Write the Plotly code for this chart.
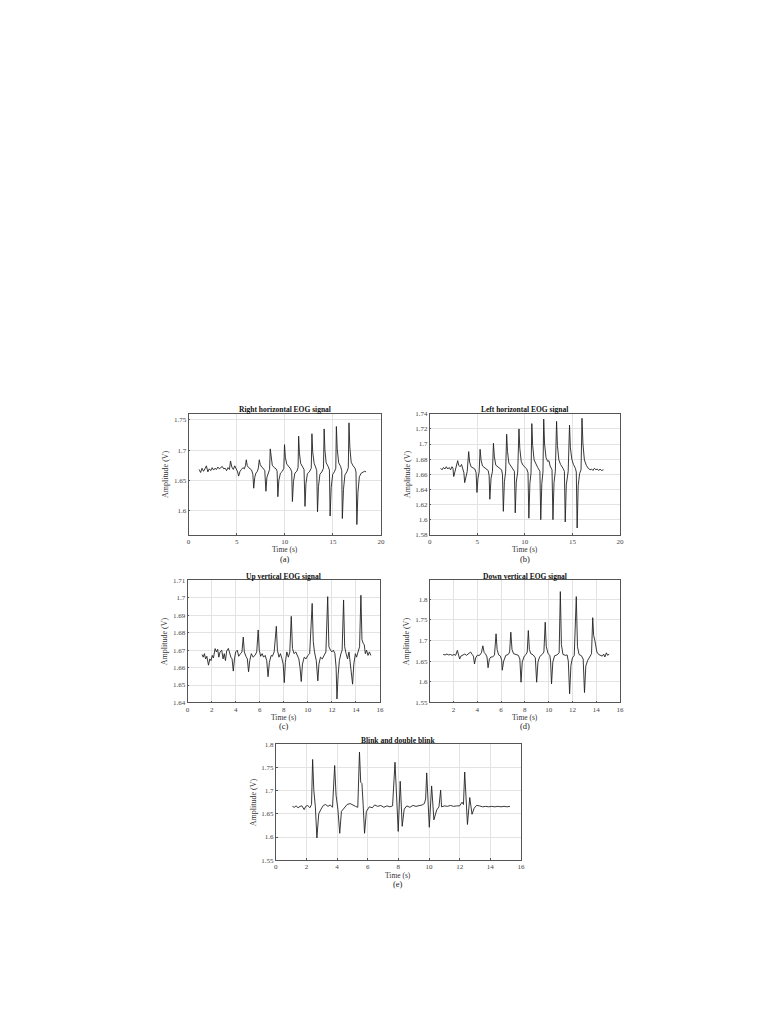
import plotly.graph_objects as go

# ---- data (time in s, amplitude in V) ----
t_right = [1.10, 1.25, 1.40, 1.55, 1.70, 1.85, 2.00, 2.15, 2.30, 2.45,
           2.60, 2.75, 2.90, 3.05, 3.20, 3.35, 3.50, 3.65, 3.80, 3.95,
           4.10, 4.25, 4.36, 4.50, 4.65, 4.80, 4.95, 5.10, 5.20, 5.35,
           5.50, 5.65, 5.80, 5.92, 6.00, 6.10, 6.25, 6.40, 6.55, 6.68,
           6.77, 6.88, 7.00, 7.15, 7.25, 7.35, 7.45, 7.60, 7.75, 7.92,
           8.04, 8.14, 8.30, 8.42, 8.49, 8.58, 8.70, 8.90, 9.10, 9.20,
           9.28, 9.38, 9.55, 9.75, 9.90, 9.97, 10.06, 10.20, 10.40, 10.60,
           10.72, 10.79, 10.90, 11.05, 11.25, 11.38, 11.44, 11.52, 11.65, 11.85,
           12.00, 12.10, 12.20, 12.35, 12.55, 12.75, 12.82, 12.90, 13.05, 13.20,
           13.32, 13.40, 13.50, 13.65, 13.85, 14.02, 14.09, 14.17, 14.30, 14.50,
           14.64, 14.71, 14.82, 14.98, 15.15, 15.30, 15.36, 15.45, 15.60, 15.80,
           15.92, 15.98, 16.10, 16.25, 16.45, 16.60, 16.67, 16.76, 16.90, 17.10,
           17.30, 17.40, 17.49, 17.60, 17.75, 17.95, 18.15, 18.30, 18.45]
v_right = [1.668, 1.663, 1.670, 1.665, 1.669, 1.674, 1.664, 1.669, 1.666, 1.671,
           1.667, 1.670, 1.668, 1.672, 1.669, 1.671, 1.673, 1.669, 1.670, 1.666,
           1.671, 1.668, 1.682, 1.672, 1.668, 1.674, 1.670, 1.664, 1.657, 1.665,
           1.668, 1.671, 1.669, 1.675, 1.684, 1.674, 1.671, 1.669, 1.667, 1.660,
           1.637, 1.655, 1.662, 1.665, 1.670, 1.684, 1.676, 1.672, 1.670, 1.666,
           1.632, 1.655, 1.663, 1.668, 1.702, 1.685, 1.675, 1.671, 1.669, 1.665,
           1.623, 1.650, 1.662, 1.665, 1.670, 1.709, 1.688, 1.677, 1.673, 1.669,
           1.664, 1.615, 1.648, 1.662, 1.665, 1.671, 1.723, 1.695, 1.678, 1.673,
           1.668, 1.607, 1.645, 1.661, 1.664, 1.670, 1.727, 1.697, 1.678, 1.672,
           1.666, 1.598, 1.640, 1.660, 1.664, 1.670, 1.735, 1.700, 1.679, 1.673,
           1.667, 1.591, 1.638, 1.660, 1.664, 1.670, 1.739, 1.702, 1.679, 1.673,
           1.666, 1.587, 1.635, 1.659, 1.664, 1.671, 1.745, 1.705, 1.680, 1.674,
           1.670, 1.664, 1.577, 1.630, 1.656, 1.662, 1.663, 1.665, 1.664]

t_left = [1.15, 1.30, 1.45, 1.60, 1.75, 1.90, 2.05, 2.20, 2.35, 2.45,
          2.53, 2.65, 2.80, 2.95, 3.05, 3.20, 3.35, 3.50, 3.60, 3.68,
          3.80, 3.95, 4.10, 4.20, 4.35, 4.55, 4.75, 4.88, 4.97, 5.08,
          5.20, 5.30, 5.40, 5.55, 5.75, 5.95, 6.15, 6.25, 6.32, 6.45,
          6.60, 6.70, 6.80, 6.95, 7.15, 7.35, 7.55, 7.65, 7.74, 7.85,
          7.98, 8.09, 8.18, 8.32, 8.50, 8.70, 8.90, 8.99, 9.10, 9.25,
          9.38, 9.47, 9.62, 9.80, 10.00, 10.20, 10.33, 10.42, 10.53, 10.65,
          10.73, 10.82, 10.97, 11.15, 11.35, 11.58, 11.67, 11.78, 11.90, 11.98,
          12.07, 12.22, 12.40, 12.53, 12.65, 12.85, 12.95, 13.06, 13.20, 13.33,
          13.42, 13.57, 13.75, 14.00, 14.15, 14.24, 14.35, 14.55, 14.69, 14.78,
          14.93, 15.10, 15.30, 15.40, 15.49, 15.60, 15.75, 15.90, 16.00, 16.10,
          16.25, 16.45, 16.65, 16.85, 17.00, 17.15, 17.30, 17.45, 17.60, 17.75,
          17.90, 18.05, 18.25]
v_left = [1.668, 1.666, 1.669, 1.667, 1.670, 1.667, 1.669, 1.666, 1.670, 1.668,
          1.657, 1.664, 1.670, 1.678, 1.672, 1.670, 1.673, 1.668, 1.662, 1.649,
          1.658, 1.664, 1.690, 1.676, 1.670, 1.668, 1.667, 1.662, 1.636, 1.655,
          1.663, 1.693, 1.679, 1.671, 1.669, 1.668, 1.665, 1.658, 1.627, 1.655,
          1.664, 1.701, 1.683, 1.672, 1.670, 1.668, 1.666, 1.660, 1.611, 1.650,
          1.663, 1.713, 1.690, 1.675, 1.671, 1.668, 1.664, 1.609, 1.650, 1.663,
          1.720, 1.694, 1.677, 1.672, 1.669, 1.667, 1.662, 1.602, 1.648, 1.662,
          1.727, 1.698, 1.679, 1.673, 1.669, 1.664, 1.600, 1.648, 1.663, 1.733,
          1.700, 1.682, 1.677, 1.678, 1.671, 1.666, 1.600, 1.649, 1.664, 1.730,
          1.698, 1.679, 1.673, 1.668, 1.664, 1.597, 1.646, 1.664, 1.725, 1.695,
          1.680, 1.673, 1.668, 1.663, 1.589, 1.645, 1.661, 1.666, 1.734, 1.700,
          1.679, 1.672, 1.668, 1.666, 1.667, 1.665, 1.668, 1.666, 1.667, 1.665,
          1.667, 1.665, 1.666]

t_up = [1.20, 1.30, 1.40, 1.50, 1.60, 1.74, 1.85, 1.95, 2.05, 2.15,
        2.29, 2.40, 2.50, 2.60, 2.70, 2.84, 2.95, 3.05, 3.15, 3.25,
        3.39, 3.50, 3.60, 3.70, 3.80, 3.90, 4.00, 4.13, 4.25, 4.40,
        4.52, 4.63, 4.72, 4.85, 4.97, 5.07, 5.17, 5.30, 5.45, 5.60,
        5.75, 5.87, 5.96, 6.08, 6.20, 6.32, 6.45, 6.58, 6.69, 6.80,
        6.95, 7.05, 7.20, 7.38, 7.47, 7.60, 7.72, 7.85, 7.95, 8.04,
        8.13, 8.25, 8.38, 8.50, 8.62, 8.72, 8.85, 9.00, 9.12, 9.25,
        9.35, 9.45, 9.55, 9.70, 9.85, 10.00, 10.15, 10.36, 10.45, 10.55,
        10.70, 10.83, 10.92, 11.05, 11.20, 11.35, 11.50, 11.65, 11.75, 11.88,
        12.00, 12.12, 12.25, 12.35, 12.42, 12.52, 12.62, 12.75, 12.85, 12.97,
        13.06, 13.18, 13.30, 13.42, 13.52, 13.62, 13.72, 13.82, 13.95, 14.05,
        14.18, 14.30, 14.41, 14.50, 14.60, 14.69, 14.78, 14.88, 15.00, 15.12,
        15.23]
v_up = [1.6675, 1.6660, 1.6680, 1.6650, 1.6665, 1.6614, 1.6650, 1.6640, 1.6670, 1.6655,
        1.6709, 1.6690, 1.6705, 1.6660, 1.6690, 1.6700, 1.6650, 1.6680, 1.6640, 1.6695,
        1.6710, 1.6680, 1.6660, 1.6650, 1.6580, 1.6650, 1.6690, 1.6700, 1.6665, 1.6680,
        1.6690, 1.6775, 1.6690, 1.6665, 1.6650, 1.6576, 1.6640, 1.6680, 1.6660, 1.6670,
        1.6690, 1.6816, 1.6700, 1.6665, 1.6680, 1.6660, 1.6670, 1.6640, 1.6548, 1.6630,
        1.6670, 1.6665, 1.6690, 1.6837, 1.6700, 1.6660, 1.6680, 1.6650, 1.6620, 1.6514,
        1.6630, 1.6690, 1.6660, 1.6690, 1.6894, 1.6710, 1.6680, 1.6690, 1.6670, 1.6650,
        1.6600, 1.6520, 1.6620, 1.6660, 1.6650, 1.6670, 1.6680, 1.6968, 1.6750, 1.6690,
        1.6640, 1.6524, 1.6620, 1.6660, 1.6650, 1.6670, 1.6690, 1.7007, 1.6720, 1.6700,
        1.6690, 1.6700, 1.6680, 1.6600, 1.6420, 1.6560, 1.6640, 1.6680, 1.6700, 1.6988,
        1.6720, 1.6680, 1.6650, 1.6690, 1.6620, 1.6580, 1.6505, 1.6620, 1.6680, 1.6660,
        1.6700, 1.6720, 1.7015, 1.6760, 1.6740, 1.6730, 1.6680, 1.6700, 1.6670, 1.6690,
        1.6670]

t_down = [1.14, 1.30, 1.45, 1.60, 1.75, 1.90, 2.05, 2.19, 2.33, 2.42,
          2.52, 2.62, 2.80, 2.95, 3.10, 3.25, 3.44, 3.58, 3.68, 3.77,
          3.87, 4.00, 4.20, 4.35, 4.47, 4.58, 4.70, 4.82, 4.91, 5.02,
          5.15, 5.30, 5.45, 5.58, 5.67, 5.80, 5.95, 6.05, 6.10, 6.22,
          6.40, 6.60, 6.72, 6.82, 6.92, 7.05, 7.25, 7.45, 7.58, 7.68,
          7.78, 7.95, 8.10, 8.20, 8.29, 8.38, 8.50, 8.70, 8.88, 8.99,
          9.10, 9.25, 9.45, 9.60, 9.71, 9.80, 9.95, 10.10, 10.16, 10.24,
          10.35, 10.50, 10.70, 10.88, 10.98, 11.07, 11.20, 11.40, 11.55, 11.65,
          11.76, 11.87, 12.00, 12.15, 12.32, 12.42, 12.55, 12.75, 12.90, 13.01,
          13.12, 13.28, 13.45, 13.60, 13.70, 13.78, 13.88, 13.95, 14.05, 14.20,
          14.35, 14.50, 14.62, 14.72, 14.85, 14.95, 15.09]
v_down = [1.666, 1.665, 1.667, 1.665, 1.666, 1.664, 1.666, 1.664, 1.676, 1.662,
          1.655, 1.662, 1.665, 1.667, 1.664, 1.668, 1.672, 1.666, 1.662, 1.643,
          1.658, 1.664, 1.664, 1.670, 1.687, 1.671, 1.667, 1.660, 1.634, 1.655,
          1.660, 1.660, 1.665, 1.716, 1.678, 1.665, 1.662, 1.652, 1.628, 1.650,
          1.664, 1.666, 1.672, 1.720, 1.678, 1.668, 1.665, 1.664, 1.655, 1.599,
          1.648, 1.662, 1.666, 1.672, 1.724, 1.678, 1.668, 1.665, 1.658, 1.599,
          1.648, 1.661, 1.666, 1.672, 1.744, 1.685, 1.668, 1.664, 1.650, 1.595,
          1.648, 1.663, 1.665, 1.670, 1.818, 1.690, 1.666, 1.664, 1.665, 1.650,
          1.571, 1.640, 1.658, 1.664, 1.806, 1.685, 1.666, 1.663, 1.655, 1.574,
          1.638, 1.652, 1.660, 1.668, 1.755, 1.712, 1.700, 1.682, 1.672, 1.666,
          1.664, 1.662, 1.667, 1.660, 1.670, 1.664, 1.667]

t_blink = [1.08, 1.20, 1.32, 1.45, 1.58, 1.70, 1.85, 1.95, 2.08, 2.22,
           2.33, 2.40, 2.48, 2.58, 2.68, 2.80, 2.95, 3.10, 3.25, 3.40,
           3.55, 3.70, 3.84, 3.93, 4.05, 4.17, 4.28, 4.45, 4.65, 4.85,
           5.05, 5.20, 5.35, 5.46, 5.54, 5.62, 5.70, 5.79, 5.91, 6.10,
           6.30, 6.45, 6.65, 6.85, 7.05, 7.25, 7.45, 7.62, 7.78, 7.88,
           7.99, 8.12, 8.25, 8.38, 8.55, 8.75, 8.95, 9.15, 9.35, 9.55,
           9.70, 9.78, 9.85, 9.95, 10.02, 10.17, 10.32, 10.50, 10.65, 10.76,
           10.82, 11.00, 11.20, 11.40, 11.60, 11.80, 12.00, 12.16, 12.25, 12.33,
           12.42, 12.51, 12.66, 12.81, 12.95, 13.10, 13.30, 13.50, 13.70, 13.90,
           14.10, 14.30, 14.50, 14.70, 14.90, 15.10, 15.29]
v_blink = [1.666, 1.664, 1.667, 1.663, 1.666, 1.667, 1.659, 1.666, 1.668, 1.663,
           1.670, 1.767, 1.700, 1.665, 1.598, 1.650, 1.660, 1.668, 1.670, 1.666,
           1.669, 1.664, 1.754, 1.690, 1.660, 1.608, 1.655, 1.662, 1.670, 1.672,
           1.668, 1.666, 1.664, 1.783, 1.718, 1.715, 1.670, 1.608, 1.655, 1.665,
           1.663, 1.669, 1.666, 1.668, 1.664, 1.667, 1.665, 1.667, 1.761, 1.700,
           1.612, 1.720, 1.623, 1.660, 1.667, 1.664, 1.668, 1.666, 1.667, 1.669,
           1.672, 1.682, 1.738, 1.680, 1.621, 1.710, 1.637, 1.658, 1.665, 1.701,
           1.665, 1.667, 1.666, 1.668, 1.666, 1.667, 1.667, 1.675, 1.670, 1.740,
           1.680, 1.627, 1.685, 1.649, 1.662, 1.668, 1.667, 1.665, 1.666, 1.665,
           1.666, 1.665, 1.666, 1.665, 1.666, 1.665, 1.666]

# tick labels
yt_right = [1.6, 1.65, 1.7, 1.75]
yt_left = [1.58, 1.6, 1.62, 1.64, 1.66, 1.68, 1.7, 1.72, 1.74]
yt_up = [1.64, 1.65, 1.66, 1.67, 1.68, 1.69, 1.7, 1.71]
yt_down = [1.55, 1.6, 1.65, 1.7, 1.75, 1.8]
yt_blink = [1.55, 1.6, 1.65, 1.7, 1.75, 1.8]
xt_20 = [0, 5, 10, 15, 20]
xt_16 = [0, 2, 4, 6, 8, 10, 12, 14, 16]
xt_16b = [2, 4, 6, 8, 10, 12, 14, 16]

titles = ["Right horizontal EOG signal", "Left horizontal EOG signal",
          "Up vertical EOG signal", "Down vertical EOG signal",
          "Blink and double blink"]
captions = ["(a)", "(b)", "(c)", "(d)", "(e)"]

# the page body has an 8px margin, so the figure starts at (8, 8)
OFF = 8
W, H = 752, 1008
SERIF = "Liberation Serif"


def px(x):
    return (x - OFF) / W


def py(y):
    return 1 - (y - OFF) / H


# panel boxes in page pixels: left, right, top, bottom
boxes = [(188, 382, 413, 535), (431, 623, 413, 535),
         (187, 381, 581, 704), (431, 623, 581, 704),
         (276, 523, 746, 863)]
xranges = [[0, 20], [0, 20], [0, 16], [0, 16], [0, 16]]
yranges = [[1.56, 1.76], [1.58, 1.74], [1.64, 1.71], [1.55, 1.845], [1.55, 1.8]]
xticks = [xt_20, xt_20, xt_16, xt_16b, xt_16]
yticks = [yt_right, yt_left, yt_up, yt_down, yt_blink]
series = [(t_right, v_right), (t_left, v_left), (t_up, v_up),
          (t_down, v_down), (t_blink, v_blink)]

fig = go.Figure()
annotations = []

for i in range(5):
    n = "" if i == 0 else str(i + 1)
    l, r, top, bot = boxes[i]
    t, v = series[i]
    fig.add_trace(go.Scatter(x=t, y=v, mode="lines", xaxis="x" + n, yaxis="y" + n,
                             line=dict(color="#222222", width=0.9), showlegend=False))
    axis_style = dict(showgrid=True, gridcolor="#e3e3e3", gridwidth=0.6,
                      zeroline=False, showline=True, mirror=True,
                      linecolor="#555555", linewidth=0.7,
                      ticks="inside", ticklen=2, tickcolor="#555555",
                      tickfont=dict(family=SERIF, size=7, color="#444444"))
    fig.update_layout({
        "xaxis" + n: dict(domain=[px(l), px(r)], anchor="y" + n, range=xranges[i],
                          tickvals=xticks[i], ticktext=[str(x) for x in xticks[i]],
                          **axis_style),
        "yaxis" + n: dict(domain=[py(bot), py(top)], anchor="x" + n, range=yranges[i],
                          tickvals=yticks[i], ticktext=[f"{y:g}" for y in yticks[i]],
                          **axis_style),
    })
    cx = px((l + r) / 2)
    cy = py((top + bot) / 2)
    annotations += [
        dict(text="<b>" + titles[i] + "</b>", x=cx, y=py(top - 4),
             font=dict(family=SERIF, size=7.5, color="#111111")),
        dict(text="Time (s)", x=cx, y=py(bot + 15),
             font=dict(family=SERIF, size=7.5, color="#333333")),
        dict(text=captions[i], x=cx, y=py(bot + 24),
             font=dict(family=SERIF, size=8.5, color="#222222")),
        dict(text="Amplitude (V)", x=px(l - 23), y=cy, textangle=-90,
             font=dict(family=SERIF, size=8, color="#333333")),
    ]

for a in annotations:
    a.update(xref="paper", yref="paper", showarrow=False, xanchor="center", yanchor="middle")

fig.update_layout(width=W, height=H, margin=dict(l=0, r=0, t=0, b=0),
                  paper_bgcolor="white", plot_bgcolor="white",
                  annotations=annotations)

fig.write_html("out.html")
